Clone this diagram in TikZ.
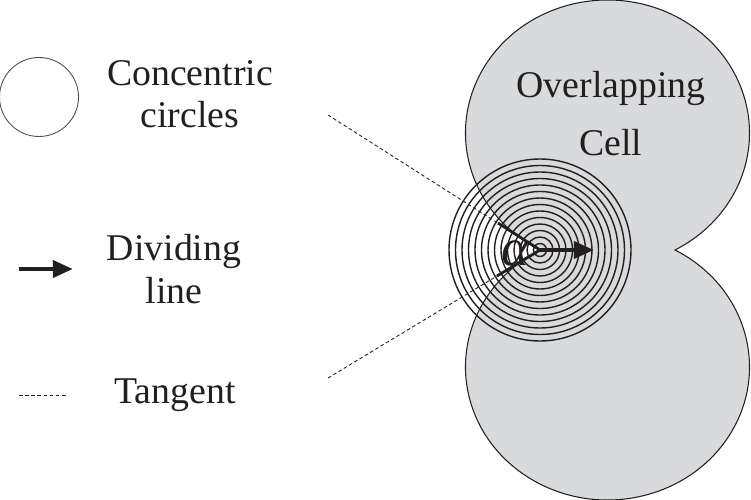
\documentclass[tikz,border=0pt]{standalone}
\usepackage{fontspec}
\setmainfont{Liberation Serif}
\usetikzlibrary{arrows.meta}
\definecolor{cellgray}{RGB}{217,218,220}
\definecolor{ink}{RGB}{35,31,32}
\begin{document}
\begin{tikzpicture}[x=0.02cm, y=-0.02cm,
    label/.style={font=\fontsize{21.5}{24.4}\selectfont, text=ink, align=center, anchor=base, inner sep=0pt},
    cell/.style={fill=cellgray, draw=ink, line width=0.6pt},
    ring/.style={draw=ink, line width=0.8pt},
    divline/.style={draw=ink, line width=2.8pt, -{Triangle[length=11.5pt,width=9.5pt]}},
    tangent/.style={draw=ink, line width=0.5pt, dash pattern=on 2pt off 1.5pt}]
  \useasboundingbox (0,0) rectangle (751,500);
  \coordinate (cusp) at (540,250);
  \coordinate (tip) at (594,250);
  \coordinate (tanA) at (328,115);
  \coordinate (tanB) at (328,378);
  \coordinate (sideA) at (498,223);
  \coordinate (sideB) at (497,276);
  % overlapping cell, two lobes
  \draw[cell] (cusp) arc[start angle=118.38, end angle=421.62, x radius=142, y radius=133]
    arc[start angle=-61.62, end angle=241.62, x radius=142, y radius=133] -- cycle;
  \draw[tangent] (tanA) -- (cusp);
  \draw[tangent] (tanB) -- (cusp);
  \foreach \r in {1,...,14}
    \draw[ring] (cusp) circle[radius=6.5*\r];
  \draw[ink, line width=1.6pt] (sideA) -- (cusp) -- (sideB);
  \draw[divline] (cusp) -- (tip);
  \node[label, anchor=center, font=\fontsize{30}{30}\selectfont\itshape] (alpha) at (515,253) {α};
  \node[label, font=\fontsize{21.5}{32.9}\selectfont] (celltext) at (611,155) {Overlapping\\Cell};
  % legend
  \coordinate (legA) at (19,269);
  \coordinate (legB) at (73,269);
  \coordinate (legC) at (19,395);
  \coordinate (legD) at (68,395);
  \draw[draw=ink!80, line width=0.5pt] (39,97) circle[radius=39.5];
  \draw[divline] (legA) -- (legB);
  \draw[tangent] (legC) -- (legD);
  \node[label] (conc) at (190,128) {Concentric\\circles};
  \node[label] (divi) at (174,303) {Dividing\\line};
  \node[label] (tang) at (175,403) {Tangent};
\end{tikzpicture}
\end{document}
